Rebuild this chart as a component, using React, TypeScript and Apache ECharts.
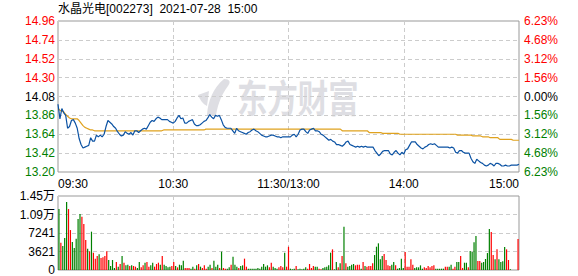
import React, { useEffect, useRef } from "react";
import * as echarts from "echarts";

const titleText = "水晶光电[002273]  2021-07-28  15:00";
const preClose = 14.08;
const priceMin = 13.2;
const priceMax = 14.96;
const priceStep = 0.22;
const volMax = 14482;
const volStep = 3620.5;
const timeLabels = ["09:30", "10:30", "11:30/13:00", "14:00", "15:00"];
const pctLabels = ["6.23%", "4.68%", "3.12%", "1.56%", "0.00%", "1.56%", "3.12%", "4.68%", "6.23%"];

const price = [
  13.99, 13.82, 13.94, 13.89, 13.86, 13.71, 13.73, 13.80, 13.81, 13.77,
  13.71, 13.59, 13.52, 13.48, 13.49, 13.50, 13.51, 13.60, 13.56, 13.56,
  13.63, 13.61, 13.63, 13.61, 13.64, 13.73, 13.80, 13.78, 13.76, 13.73,
  13.71, 13.67, 13.64, 13.62, 13.63, 13.67, 13.65, 13.64, 13.66, 13.63,
  13.68, 13.68, 13.66, 13.68, 13.70, 13.71, 13.70, 13.74, 13.78, 13.80,
  13.79, 13.82, 13.84, 13.83, 13.81, 13.81, 13.81, 13.81, 13.79, 13.78,
  13.77, 13.79, 13.83, 13.86, 13.82, 13.83, 13.77, 13.77, 13.79, 13.80,
  13.81, 13.76, 13.74, 13.74, 13.75, 13.77, 13.79, 13.80, 13.83, 13.87,
  13.84, 13.82, 13.86, 13.85, 13.86, 13.81, 13.75, 13.72, 13.71, 13.71,
  13.71, 13.68, 13.65, 13.71, 13.68, 13.67, 13.66, 13.65, 13.64, 13.66,
  13.67, 13.69, 13.70, 13.68, 13.67, 13.65, 13.63, 13.62, 13.61, 13.61,
  13.62, 13.63, 13.63, 13.62, 13.61, 13.61, 13.60, 13.61, 13.61, 13.61,
  13.61, 13.61, 13.63, 13.64, 13.61, 13.64, 13.69, 13.70, 13.70, 13.67,
  13.65, 13.69, 13.70, 13.71, 13.68, 13.68, 13.67, 13.64, 13.63, 13.61,
  13.59, 13.57, 13.58, 13.56, 13.55, 13.52, 13.52, 13.51, 13.50, 13.52,
  13.55, 13.56, 13.52, 13.51, 13.50, 13.49, 13.50, 13.49, 13.50, 13.49,
  13.50, 13.49, 13.49, 13.49, 13.49, 13.45, 13.42, 13.39, 13.41, 13.44,
  13.45, 13.45, 13.45, 13.41, 13.40, 13.43, 13.45, 13.42, 13.40, 13.43,
  13.41, 13.46, 13.47, 13.51, 13.55, 13.55, 13.55, 13.52, 13.50, 13.48,
  13.47, 13.49, 13.50, 13.52, 13.53, 13.52, 13.53, 13.51, 13.49, 13.49,
  13.49, 13.49, 13.49, 13.49, 13.48, 13.49, 13.48, 13.43, 13.42, 13.45,
  13.45, 13.43, 13.42, 13.42, 13.42, 13.36, 13.32, 13.30, 13.35, 13.33,
  13.31, 13.30, 13.28, 13.27, 13.28, 13.30, 13.29, 13.27, 13.30, 13.30,
  13.29, 13.27, 13.27, 13.28, 13.27, 13.27, 13.28, 13.28, 13.28, 13.28,
  13.29,
];

const avgPrice = [
  13.94, 13.92, 13.91, 13.90, 13.87, 13.85, 13.83, 13.82, 13.82, 13.82,
  13.82, 13.80, 13.77, 13.74, 13.72, 13.71, 13.70, 13.69, 13.69, 13.68,
  13.68, 13.68, 13.68, 13.68, 13.68, 13.68, 13.68, 13.68, 13.68, 13.68,
  13.68, 13.68, 13.68, 13.68, 13.68, 13.68, 13.68, 13.68, 13.68, 13.68,
  13.68, 13.68, 13.68, 13.68, 13.68, 13.68, 13.68, 13.68, 13.68, 13.68,
  13.68, 13.68, 13.68, 13.68, 13.68, 13.69, 13.69, 13.69, 13.69, 13.69,
  13.69, 13.69, 13.69, 13.69, 13.69, 13.69, 13.69, 13.69, 13.69, 13.69,
  13.69, 13.69, 13.69, 13.69, 13.69, 13.69, 13.69, 13.70, 13.70, 13.70,
  13.70, 13.70, 13.70, 13.70, 13.70, 13.70, 13.70, 13.70, 13.70, 13.70,
  13.70, 13.70, 13.70, 13.70, 13.70, 13.70, 13.70, 13.70, 13.70, 13.70,
  13.70, 13.70, 13.70, 13.70, 13.70, 13.70, 13.70, 13.70, 13.70, 13.70,
  13.70, 13.70, 13.70, 13.70, 13.70, 13.70, 13.70, 13.70, 13.70, 13.70,
  13.70, 13.70, 13.70, 13.70, 13.70, 13.70, 13.70, 13.70, 13.70, 13.70,
  13.70, 13.70, 13.70, 13.70, 13.70, 13.70, 13.70, 13.70, 13.70, 13.70,
  13.70, 13.70, 13.70, 13.70, 13.70, 13.70, 13.70, 13.70, 13.68, 13.68,
  13.68, 13.68, 13.68, 13.68, 13.68, 13.68, 13.68, 13.68, 13.68, 13.68,
  13.68, 13.68, 13.66, 13.66, 13.66, 13.66, 13.66, 13.66, 13.66, 13.65,
  13.65, 13.65, 13.65, 13.65, 13.65, 13.65, 13.65, 13.65, 13.64, 13.64,
  13.64, 13.64, 13.64, 13.64, 13.64, 13.64, 13.64, 13.64, 13.64, 13.64,
  13.64, 13.64, 13.64, 13.64, 13.64, 13.64, 13.64, 13.64, 13.64, 13.64,
  13.64, 13.64, 13.64, 13.64, 13.64, 13.64, 13.64, 13.64, 13.63, 13.63,
  13.63, 13.63, 13.63, 13.63, 13.63, 13.63, 13.62, 13.62, 13.62, 13.62,
  13.62, 13.61, 13.61, 13.61, 13.61, 13.60, 13.60, 13.60, 13.60, 13.60,
  13.58, 13.58, 13.58, 13.58, 13.58, 13.58, 13.58, 13.57, 13.57, 13.57,
  13.57,
];

const volume = [
  11930, 5350, 4690, 6260, 13300, 11930, 7820, 5480, 4300, 6130,
  9980, 10950, 10430, 9000, 5870, 4170, 3650, 7500, 3390, 2220,
  2740, 3070, 2350, 2480, 2740, 3650, 1960, 780, 1960, 390,
  1560, 650, 1170, 2740, 1430, 910, 1040, 780, 910, 780,
  650, 390, 1560, 520, 910, 1430, 1560, 650, 910, 1430,
  650, 1170, 1430, 1040, 2740, 1040, 780, 520, 650, 780,
  1560, 780, 520, 1040, 910, 1830, 390, 390, 390, 260,
  650, 260, 910, 1170, 650, 390, 910, 260, 650, 1040,
  390, 1830, 650, 1040, 390, 3590, 390, 260, 260, 520,
  1040, 2610, 1040, 650, 390, 780, 910, 2220, 650, 260,
  260, 260, 260, 260, 390, 260, 650, 1170, 650, 910,
  520, 1430, 650, 390, 260, 520, 780, 520, 3390, 650,
  4560, 260, 130, 260, 780, 130, 260, 130, 260, 520,
  260, 1170, 390, 780, 650, 650, 260, 130, 390, 520,
  650, 910, 3390, 4040, 130, 1560, 520, 1300, 2740, 8480,
  1300, 650, 780, 1040, 1170, 910, 1040, 1040, 260, 1560,
  780, 650, 780, 780, 1300, 2930, 4560, 5220, 2090, 2740,
  3130, 1960, 910, 780, 1040, 1560, 910, 260, 390, 2220,
  390, 3520, 650, 650, 2090, 1040, 390, 520, 520, 910,
  260, 520, 390, 780, 520, 780, 910, 260, 260, 260,
  260, 260, 650, 650, 650, 1040, 260, 650, 1560, 1560,
  2740, 400, 1430, 1430, 520, 3720, 3520, 5410, 6650, 1760,
  1760, 1430, 1560, 2150, 3320, 8020, 7430, 2930, 2090, 4040,
  2090, 1560, 1700, 4500, 4040, 1960, 130, 0, 0, 0,
  6060,
];

// 1 = up (red), -1 = down (green)
const volDir = [
  -1, 1, -1, -1, -1, 1, 1, -1, -1, -1,
  -1, -1, 1, 1, 1, -1, 1, -1, 1, 1,
  1, -1, 1, 1, 1, 1, -1, -1, -1, -1,
  1, -1, 1, -1, 1, -1, -1, 1, -1, 1,
  1, -1, -1, 1, 1, -1, 1, 1, -1, -1,
  1, 1, 1, -1, 1, -1, -1, -1, -1, 1,
  1, -1, 1, -1, -1, -1, 1, 1, 1, -1,
  -1, 1, -1, 1, -1, 1, 1, 1, -1, -1,
  1, -1, -1, -1, 1, -1, 1, 1, -1, -1,
  1, -1, -1, -1, 1, -1, -1, 1, 1, -1,
  -1, -1, -1, -1, -1, -1, -1, -1, -1, -1,
  1, 1, -1, -1, -1, 1, 1, 1, -1, 1,
  1, -1, -1, -1, 1, -1, -1, -1, -1, -1,
  1, 1, 1, 1, -1, -1, 1, 1, -1, -1,
  -1, -1, -1, 1, -1, -1, 1, -1, 1, -1,
  1, -1, -1, -1, -1, 1, 1, 1, -1, 1,
  -1, 1, 1, 1, 1, -1, -1, -1, -1, -1,
  1, 1, 1, 1, -1, -1, 1, -1, -1, -1,
  -1, 1, 1, 1, 1, 1, -1, -1, -1, -1,
  -1, 1, 1, 1, 1, 1, 1, -1, -1, -1,
  -1, -1, 1, 1, -1, -1, 1, 1, -1, -1,
  1, 1, -1, -1, 1, -1, -1, -1, -1, 1,
  1, -1, -1, -1, -1, -1, 1, 1, -1, 1,
  -1, -1, -1, -1, 1, 1, -1, -1, -1, -1,
  1,
];

const minutes: string[] = Array.from({ length: 241 }, (_, i) => {
  const m = i <= 120 ? 570 + i : 780 + (i - 120);
  const hh = String(Math.floor(m / 60)).padStart(2, "0");
  const mm = String(m % 60).padStart(2, "0");
  return `${hh}:${mm}`;
});

const RED = "#ff0000";
const GREEN = "#008000";
const FONT = "'Liberation Sans', Arial, 'Noto Sans CJK SC', sans-serif";

const logoPath =
  "M26 0 C32 0 33 3 30 7 C24 15 20 24 18 36 L9 36 C10 22 15 9 26 0 Z M0 16 L11 12 L9 27 C5 25 2 21 0 16 Z";

let registered = false;
function ensureLogo() {
  if (registered) return;
  echarts.graphic.registerShape("logo", echarts.graphic.extendPath(logoPath, {}) as any);
  registered = true;
}

function priceColor(v: number) {
  if (v > preClose + 1e-6) return RED;
  if (v < preClose - 1e-6) return GREEN;
  return "#000";
}

export default function App() {
  const ref = useRef<HTMLDivElement>(null);
  useEffect(() => {
    if (!ref.current) return;
    ensureLogo();
    const chart = echarts.init(ref.current, undefined, { renderer: "svg" });
    const dash = { color: "#cccccc", type: [4, 3] as any, width: 1 };
    const option: any = {
      animation: false,
      backgroundColor: "#fff",
      textStyle: { fontFamily: FONT },
      graphic: [
        {
          type: "text",
          left: 58,
          top: 3,
          style: { text: titleText, fill: "#000", font: `12px ${FONT}` },
        },
        {
          type: "logo",
          x: 198,
          y: 79,
          z: 0,
          silent: true,
          style: { fill: "#dedee3" },
        },
        {
          type: "text",
          x: 237,
          y: 76,
          z: 0,
          silent: true,
          scaleX: 0.8,
          style: {
            text: "东方财富",
            fill: "#dedee3",
            font: `bold 38px 'Noto Sans CJK SC', sans-serif`,
          },
        },
      ],
      grid: [
        { left: 58, right: 59, top: 21, height: 151, show: true, borderColor: "#999", borderWidth: 1, backgroundColor: "transparent" },
        { left: 58, right: 59, top: 196, height: 74, show: true, borderColor: "#999", borderWidth: 1, backgroundColor: "transparent" },
      ],
      xAxis: [
        {
          type: "category",
          gridIndex: 0,
          data: minutes,
          boundaryGap: false,
          axisLine: { show: false },
          axisTick: { show: false },
          axisLabel: {
            interval: (i: number) => i % 60 === 0,
            formatter: (v: string) => {
              const idx = minutes.indexOf(v);
              return timeLabels[Math.round(idx / 60)];
            },
            color: "#000",
            fontSize: 12,
            fontFamily: FONT,
            margin: 6,
            showMinLabel: true,
            showMaxLabel: true,
            alignMinLabel: "left",
            alignMaxLabel: "right",
          },
          splitLine: {
            show: true,
            interval: (i: number) => i % 60 === 0 && i > 0 && i < 240,
            lineStyle: dash,
          },
        },
        {
          type: "category",
          gridIndex: 1,
          data: minutes,
          boundaryGap: true,
          axisLine: { show: false },
          axisTick: { show: false },
          axisLabel: { show: false },
          splitLine: { show: false },
        },
        {
          type: "category",
          gridIndex: 1,
          data: minutes,
          boundaryGap: false,
          axisLine: { show: false },
          axisTick: { show: false },
          axisLabel: { show: false },
          splitLine: {
            show: true,
            interval: (i: number) => i % 60 === 0 && i > 0 && i < 240,
            lineStyle: dash,
          },
        },
      ],
      yAxis: [
        {
          type: "value",
          gridIndex: 0,
          min: priceMin,
          max: priceMax,
          interval: priceStep,
          axisLine: { show: false },
          axisTick: { show: false },
          axisLabel: {
            formatter: (v: number) => Number(v).toFixed(2),
            color: (v: any) => priceColor(Number(v)),
            fontSize: 12,
            fontFamily: FONT,
            margin: 3,
          },
          splitLine: { show: true, lineStyle: dash },
        },
        {
          type: "value",
          gridIndex: 0,
          position: "right",
          min: priceMin,
          max: priceMax,
          interval: priceStep,
          axisLine: { show: false },
          axisTick: { show: false },
          axisLabel: {
            formatter: (v: number) => pctLabels[Math.round((Number(v) - priceMin) / priceStep)],
            color: (v: any) => priceColor(Number(v)),
            fontSize: 12,
            fontFamily: FONT,
            margin: 5,
          },
          splitLine: { show: false },
        },
        {
          type: "value",
          gridIndex: 1,
          min: 0,
          max: volMax,
          interval: volStep,
          axisLine: { show: false },
          axisTick: { show: false },
          axisLabel: {
            formatter: (v: number) =>
              v >= 10000 ? (v / 10000).toFixed(2) + "万" : String(Math.round(v)),
            color: "#000",
            fontSize: 12,
            fontFamily: FONT,
            margin: 3,
          },
          splitLine: { show: true, lineStyle: dash },
        },
      ],
      series: [
        {
          type: "line",
          xAxisIndex: 0,
          yAxisIndex: 0,
          data: avgPrice,
          symbol: "none",
          lineStyle: { color: "#e0a21e", width: 1.2 },
          z: 3,
        },
        {
          type: "line",
          xAxisIndex: 0,
          yAxisIndex: 0,
          data: price,
          symbol: "none",
          lineStyle: { color: "#0b52a3", width: 1.2 },
          z: 4,
        },
        {
          type: "bar",
          xAxisIndex: 1,
          yAxisIndex: 2,
          barWidth: 1.2,
          data: volume.map((v, i) => ({
            value: v,
            itemStyle: { color: volDir[i] > 0 ? RED : GREEN },
          })),
        },
      ],
    };
    chart.setOption(option);
    return () => chart.dispose();
  }, []);
  return (
    <div
      ref={ref}
      style={{ position: "absolute", left: 0, top: 0, width: 578, height: 276, background: "#fff" }}
    />
  );
}
